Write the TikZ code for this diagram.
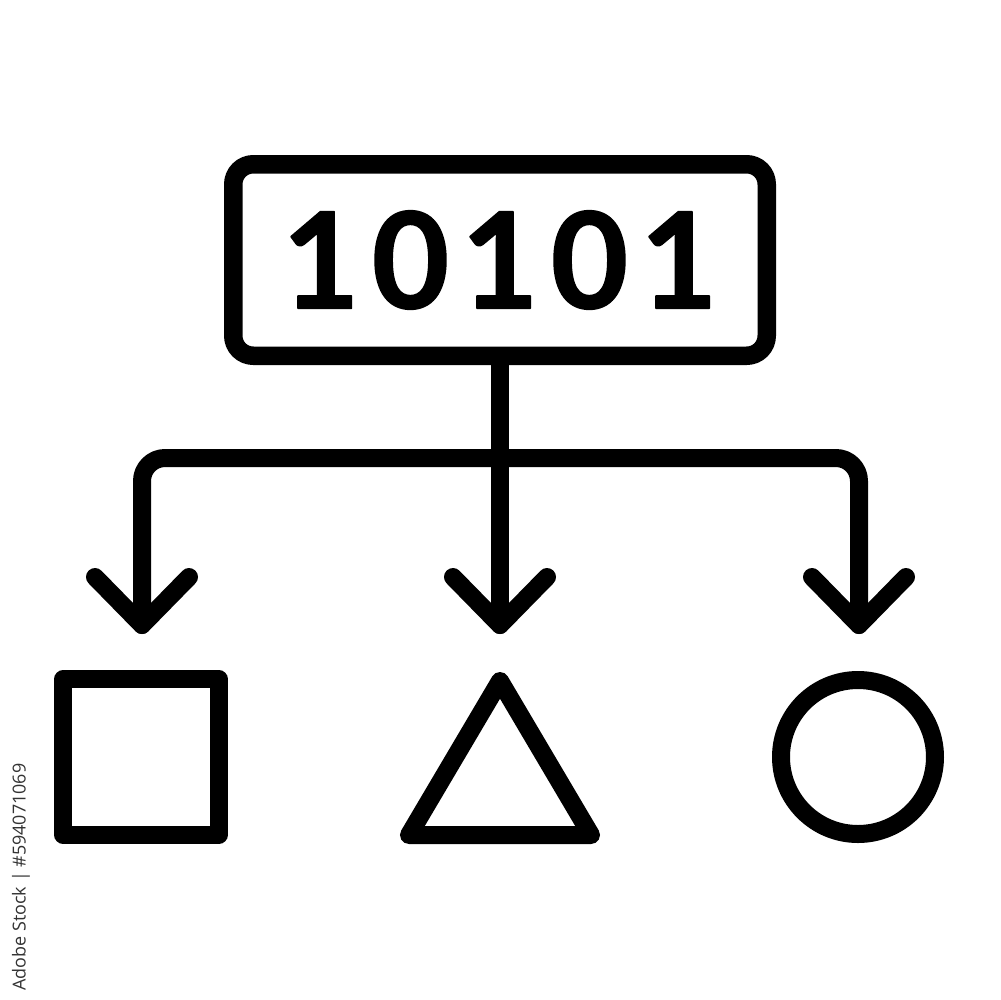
\documentclass[tikz,border=0pt]{standalone}
\usepackage{fontspec}
\usetikzlibrary{calc}
\newfontfamily\digitfont{Lato}[LetterSpace=9, BoldFeatures={FakeBold=1.2}]
\newfontfamily\markfont{Open Sans}
\begin{document}
\begin{tikzpicture}[x=0.1mm,y=-0.1mm,
  line cap=round, line join=round,
  link/.style={draw=black, line width=1.8mm},
  binbox/.style={draw=black, line width=1.85mm, rounded corners=2mm,
    minimum width=53.35mm, minimum height=19.15mm, inner sep=0pt},
  shapebox/.style={draw=black, line width=1.8mm, inner sep=0pt}]
\useasboundingbox (0,0) rectangle (1000,1000);
\fill[white] (0,0) rectangle (1000,1000);
% top box with binary number
\node[binbox] (box) at (500,260)
  {\digitfont\bfseries\fontsize{38pt}{38pt}\selectfont 10101};
% arrow tips and fork
\coordinate (fork) at (500,458);
\coordinate (tipL) at (142,625);
\coordinate (tipM) at (500,625);
\coordinate (tipR) at (859,625);
\draw[link] (box.south) -- (tipM);
\draw[link, rounded corners=2.3mm] (fork) -| (tipL);
\draw[link, rounded corners=2.3mm] (fork) -| (tipR);
\foreach \t in {tipL,tipM,tipR}{
  \draw[link] ($(\t)+(-47,-48)$) -- (\t) -- ($(\t)+(47,-48)$);
}
% shapes
\node[shapebox, minimum size=15.55mm] (sq) at (141,757) {};
\coordinate (triA) at (500,681);
\coordinate (triL) at (409,835);
\coordinate (triR) at (591,835);
\draw[link] (triL) -- (triA) -- (triR) -- cycle;
\node[shapebox, circle, minimum size=15.4mm] (ci) at (858,757) {};
% side mark
\node[rotate=90, text=black!80, inner sep=0pt] (mark) at (21,877)
  {\markfont\fontsize{5.1pt}{6pt}\selectfont Adobe Stock | \#594071069};
\end{tikzpicture}
\end{document}
